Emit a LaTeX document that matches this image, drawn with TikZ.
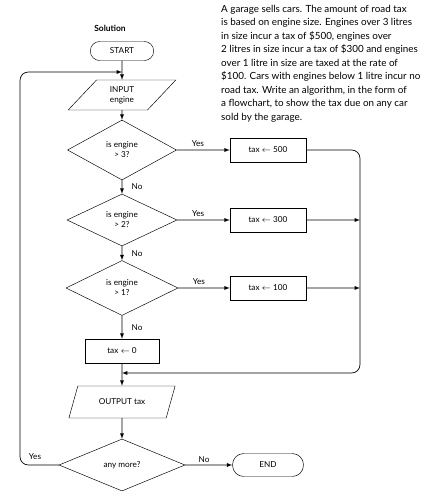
\documentclass[tikz,border=0pt]{standalone}
\usepackage{fontspec}
\setmainfont{Lato}
\usetikzlibrary{shapes.geometric}

\begin{document}
\begin{tikzpicture}[scale=0.03]
\tikzstyle{every node}+=[inner sep=0pt, font=\fontsize{7}{8.5}\selectfont]
\tikzstyle{term}=[draw, rounded corners=0.28cm, minimum width=1.9cm, minimum height=0.57cm]
\tikzstyle{io}=[draw, trapezium, trapezium left angle=52, trapezium right angle=128, trapezium stretches=true, align=center]
\tikzstyle{decide}=[draw, diamond, align=center]
\tikzstyle{proc}=[draw, minimum width=2.28cm, minimum height=0.72cm]
\tikzstyle{flow}=[draw, ->, >=latex, line width=0.6pt]
\useasboundingbox (0,0) rectangle (424,-500);
% question text
\node [anchor=north west, align=left, font=\fontsize{8.4}{11.5}\selectfont] (question) at (221,-5)
  {A garage sells cars. The amount of road tax\\
   is based on engine size. Engines over 3 litres\\
   in size incur a tax of \$500, engines over\\
   2 litres in size incur a tax of \$300 and engines\\
   over 1 litre in size are taxed at the rate of\\
   \$100. Cars with engines below 1 litre incur no\\
   road tax. Write an algorithm, in the form of\\
   a flowchart, to show the tax due on any car\\
   sold by the garage.};
\node [font=\fontsize{7.2}{8}\selectfont\bfseries] (solution) at (110,-28) {Solution};
% flowchart
\node [term] (start) at (122,-51) {START};
\coordinate (join1) at (122,-72);
\node [io, minimum width=3.24cm, minimum height=0.9cm] (input) at (122,-95) {INPUT\\engine};
\node [decide, minimum width=3.27cm, minimum height=1.8cm] (gt3) at (122,-150) {is engine\\> 3?};
\node [proc] (tax500) at (268,-150) {tax \ensuremath{\leftarrow} 500};
\node [decide, minimum width=3.3cm, minimum height=1.56cm] (gt2) at (122,-220) {is engine\\> 2?};
\node [proc] (tax300) at (268,-220) {tax \ensuremath{\leftarrow} 300};
\node [decide, minimum width=3.36cm, minimum height=1.65cm] (gt1) at (122,-288) {is engine\\> 1?};
\node [proc] (tax100) at (268,-288) {tax \ensuremath{\leftarrow} 100};
\node [proc, minimum width=2.22cm] (tax0) at (122,-351) {tax \ensuremath{\leftarrow} 0};
\coordinate (join2) at (122,-373);
\node [io, minimum width=3.2cm, minimum height=0.96cm] (output) at (122,-402) {OUTPUT tax};
\node [decide, minimum width=3.78cm, minimum height=1.56cm] (more) at (122,-465) {any more?};
\node [term, minimum width=2.13cm, minimum height=0.69cm, rounded corners=0.34cm] (end) at (268,-465) {END};
\coordinate (trunk) at (360,-150);
\coordinate (trunkend) at (360,-373);
\coordinate (loopa) at (20,-465);
\coordinate (loopb) at (20,-72);
% connectors
\draw [flow] (start) -- (input);
\draw [flow] (input) -- (gt3);
\draw [flow] (gt3) -- (tax500) node [pos=0.4, above=3pt] {Yes};
\draw [flow] (gt3) -- (gt2) node [midway, right=8pt] {No};
\draw [flow] (gt2) -- (tax300) node [pos=0.4, above=3pt] {Yes};
\draw [flow] (gt2) -- (gt1) node [midway, right=8pt] {No};
\draw [flow] (gt1) -- (tax100) node [pos=0.4, above=3pt] {Yes};
\draw [flow] (gt1) -- (tax0) node [midway, right=8pt] {No};
\draw [flow] (tax0) -- (output);
\draw [flow] (output) -- (more);
\draw [flow] (more) -- (end) node [pos=0.4, above=2pt] {No};
\draw [flow, rounded corners=0.25cm] (tax500) -- (trunk) -- (trunkend) -- (join2);
\draw [flow] (tax300) -- (tax300 -| trunk);
\draw [flow] (tax100) -- (tax100 -| trunk);
\draw [flow, rounded corners=0.25cm] (more.west) -- (loopa) -- (loopb) -- (join1);
\node (yesloop) at (35,-457) {Yes};
\end{tikzpicture}
\end{document}
